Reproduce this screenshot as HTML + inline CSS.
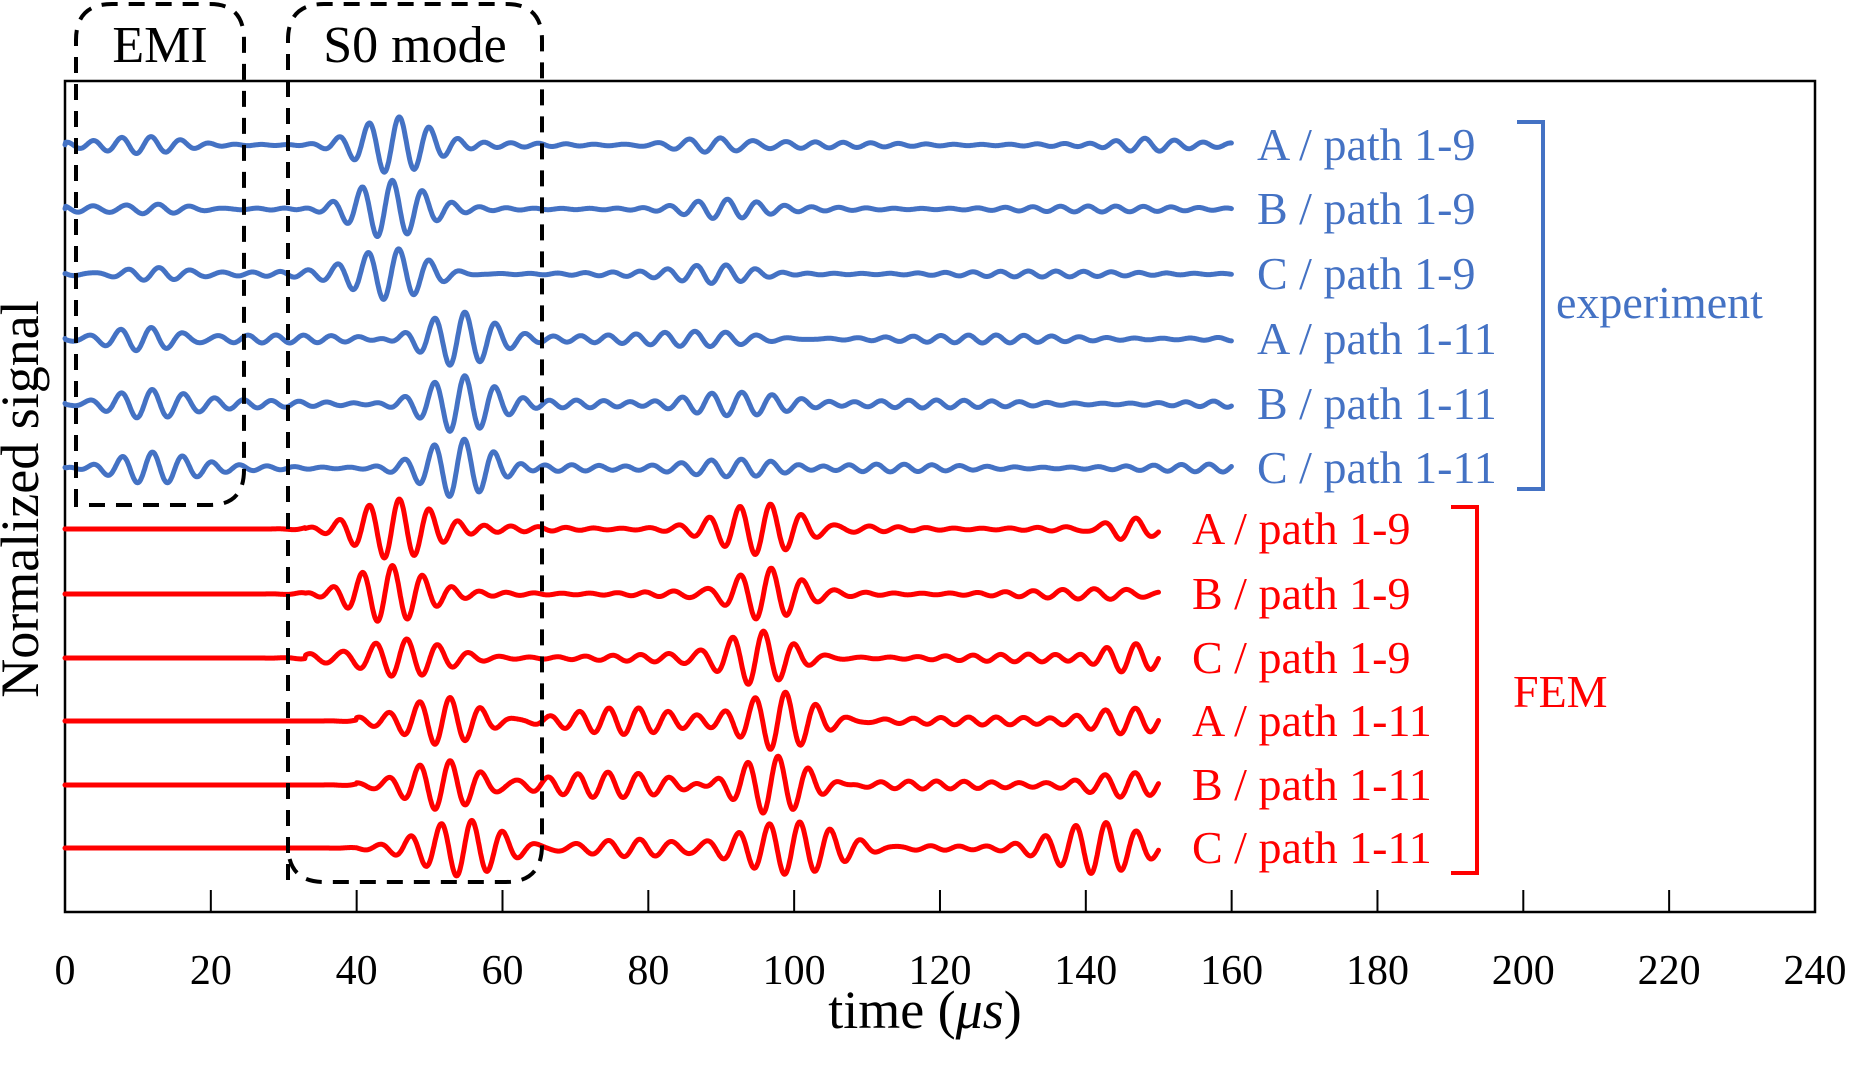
<!DOCTYPE html>
<html><head><meta charset="utf-8"><style>
html,body{margin:0;padding:0;background:#fff;}
svg{display:block;}
text{font-family:"Liberation Serif","Times New Roman",serif;}
</style></head><body>
<svg id="s" width="1850" height="1076" viewBox="0 0 1850 1076" xmlns="http://www.w3.org/2000/svg" font-family="Liberation Serif, serif">
<rect x="65" y="81" width="1750" height="831" fill="none" stroke="#000" stroke-width="2.5"/>
<g id="ticks" stroke="#000" stroke-width="2"></g>
<g id="tl" font-size="42" text-anchor="middle" fill="#000"></g>
<text x="925" y="1028" font-size="54" text-anchor="middle">time (<tspan font-style="italic">μs</tspan>)</text>
<text transform="translate(38,499) rotate(-90)" font-size="54" text-anchor="middle">Normalized signal</text>
<g id="sig" fill="none" stroke-width="5" stroke-linejoin="round" stroke-linecap="round"></g>
<g fill="none" stroke="#000" stroke-width="4" stroke-dasharray="16,11">
<path d="M76,505 L76,40 Q76,4 112,4 L210,4 Q244,4 244,40 L244,470 Q244,505 210,505 Z"/>
<path d="M288,880 L288,40 Q288,4 324,4 L506,4 Q542,4 542,40 L542,845 Q542,882 506,882 L324,882 Q288,882 288,845"/>
</g>
<text x="160" y="62" font-size="52" text-anchor="middle">EMI</text>
<text x="415" y="62" font-size="52" text-anchor="middle">S0 mode</text>
<g font-size="46" fill="#4472c4" id="bl"></g>
<g font-size="46" fill="#ff0000" id="rl"></g>
<path d="M1517,122 L1543,122 L1543,489 L1517,489" fill="none" stroke="#4472c4" stroke-width="4"/>
<text x="1556" y="318" font-size="46" fill="#4472c4">experiment</text>
<path d="M1451,507 L1477,507 L1477,873 L1451,873" fill="none" stroke="#ff0000" stroke-width="4"/>
<text x="1513" y="707" font-size="46" fill="#ff0000">FEM</text>
</svg>
<script>
var NS="http://www.w3.org/2000/svg";
function X(t){return 65+t*7.29;}
function el(p,n,a,txt){var e=document.createElementNS(NS,n);for(var k in a)e.setAttribute(k,a[k]);if(txt!==undefined)e.textContent=txt;document.getElementById(p).appendChild(e);}
for(var i=0;i<=12;i++){var x=65+i*145.83;if(i>0&&i<12)el("ticks","line",{x1:x,y1:912,x2:x,y2:890});el("tl","text",{x:x,y:984},String(i*20));}
function sig(base,end,packs,rip,start,color,seed){
 var d="",P=4.2;
 for(var t=0;t<=end;t+=0.1){
  var y=0;
  for(var j=0;j<packs.length;j++){var p=packs[j];var g=Math.exp(-Math.pow((t-p[0])/p[1],2)/2);y+=p[2]*g*Math.sin(2*Math.PI*(t-p[0])/P+0.3);}
  if(t>start){var r=rip*(0.6+0.4*Math.sin(t*0.13+seed));y+=r*Math.sin(2*Math.PI*t/3.8+seed);}
  d+=(t==0?"M":"L")+X(t).toFixed(1)+","+(base-y).toFixed(1);
 }
 el("sig","path",{d:d,stroke:color});
}
var B="#4472c4",R="#ff0000";
var bb=[145,209,274,339,404,468];
sig(bb[0],160,[[11,5,6],[45,4.8,26],[89,5,9],[147,4,5]],3,0,B,1);
sig(bb[1],160,[[12,5,6],[44,4.8,27],[90,5,7]],3,0,B,2);
sig(bb[2],160,[[12,5,7],[45,4.8,26],[90,5,7]],3,0,B,3);
sig(bb[3],160,[[11,5,13],[54,4.6,27],[90,6,7]],4,0,B,4);
sig(bb[4],160,[[11,5,16],[54,4.6,27],[92,7,11]],4,0,B,5);
sig(bb[5],160,[[11,5,14],[54,4.6,27],[92,7,8]],4,0,B,6);
var rb=[529,594,658,721,785,848];
sig(rb[0],150,[[45,5,27],[96,5.5,28],[146,3.5,15]],4,33,R,1);
sig(rb[1],150,[[44,4.8,26],[96,4.5,30],[145,5,8]],4,33,R,2);
sig(rb[2],150,[[46,5.5,22],[95,4.5,30],[146,4,13]],4,33,R,3);
sig(rb[3],150,[[52,4.8,24],[98,4.8,30],[78,8,10],[146,5,12]],4,40,R,4);
sig(rb[4],150,[[52,4.8,26],[97,5,30],[78,8,12],[146,5,12]],4,40,R,5);
sig(rb[5],150,[[55,5.5,30],[100,7,26],[142,6,26],[78,6,10]],3,40,R,6);
var bt=["A / path 1-9","B / path 1-9","C / path 1-9","A / path 1-11","B / path 1-11","C / path 1-11"];
for(var i=0;i<6;i++){el("bl","text",{x:1257,y:bb[i]+15},bt[i]);el("rl","text",{x:1192,y:rb[i]+15},bt[i]);}
</script>
</body></html>
